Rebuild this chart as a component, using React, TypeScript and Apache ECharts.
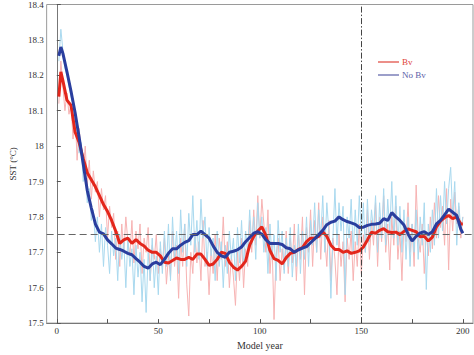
import React, { useEffect, useRef } from "react";
import * as echarts from "echarts";

const thickYears = [1, 2, 3, 5, 7, 9, 11, 13, 15, 17, 19, 21, 23, 25, 27, 29, 31, 33, 35, 37, 39, 41, 43, 45, 47, 49, 51, 53, 55, 57, 59, 61, 63, 65, 67, 69, 71, 73, 75, 77, 79, 81, 83, 85, 87, 89, 91, 93, 95, 97, 99, 101, 103, 105, 107, 109, 111, 113, 115, 117, 119, 121, 123, 125, 127, 129, 131, 133, 135, 137, 139, 141, 143, 145, 147, 149, 151, 153, 155, 157, 159, 161, 163, 165, 167, 169, 171, 173, 175, 177, 179, 181, 183, 185, 187, 189, 191, 193, 195, 197, 199, 200];

const bvSmooth = [18.14, 18.21, 18.185, 18.13, 18.115, 18.04, 18.01, 17.965, 17.925, 17.905, 17.885, 17.86, 17.835, 17.815, 17.79, 17.76, 17.725, 17.735, 17.74, 17.725, 17.736, 17.725, 17.718, 17.706, 17.7, 17.7, 17.69, 17.672, 17.67, 17.677, 17.684, 17.68, 17.68, 17.686, 17.68, 17.695, 17.695, 17.68, 17.663, 17.667, 17.68, 17.7, 17.697, 17.672, 17.658, 17.65, 17.66, 17.675, 17.72, 17.745, 17.76, 17.772, 17.748, 17.705, 17.682, 17.677, 17.667, 17.685, 17.697, 17.7, 17.708, 17.713, 17.73, 17.74, 17.74, 17.745, 17.758, 17.745, 17.72, 17.708, 17.708, 17.7, 17.704, 17.697, 17.7, 17.704, 17.715, 17.735, 17.757, 17.754, 17.762, 17.767, 17.758, 17.756, 17.757, 17.75, 17.759, 17.766, 17.762, 17.758, 17.744, 17.745, 17.732, 17.743, 17.772, 17.788, 17.798, 17.804, 17.795, 17.8, 17.78, 17.78];

const noBvSmooth = [18.255, 18.28, 18.262, 18.21, 18.155, 18.095, 18.025, 17.95, 17.875, 17.825, 17.78, 17.757, 17.752, 17.735, 17.724, 17.712, 17.708, 17.703, 17.697, 17.693, 17.682, 17.672, 17.66, 17.655, 17.667, 17.672, 17.665, 17.68, 17.697, 17.71, 17.71, 17.72, 17.728, 17.733, 17.75, 17.75, 17.76, 17.75, 17.74, 17.718, 17.7, 17.69, 17.686, 17.7, 17.703, 17.707, 17.715, 17.73, 17.742, 17.754, 17.758, 17.751, 17.735, 17.725, 17.725, 17.725, 17.722, 17.713, 17.71, 17.7, 17.707, 17.712, 17.716, 17.727, 17.738, 17.75, 17.762, 17.778, 17.785, 17.788, 17.8, 17.792, 17.787, 17.783, 17.779, 17.77, 17.771, 17.776, 17.779, 17.78, 17.782, 17.795, 17.79, 17.812, 17.8, 17.79, 17.777, 17.752, 17.732, 17.745, 17.755, 17.758, 17.75, 17.758, 17.78, 17.79, 17.806, 17.822, 17.813, 17.804, 17.765, 17.754];

const bvAnnual = [
  18.12, 18.24, 18.17, 18.1, 18.15, 18.09, 18.12, 18.02, 18.1, 17.96,
  18.05, 17.99, 17.93, 18.0, 17.89, 17.96, 17.85, 17.93, 17.87, 17.9,
  17.8, 17.88, 17.82, 17.86, 17.74, 17.83, 17.77, 17.81, 17.68, 17.76,
  17.66, 17.78, 17.7, 17.8, 17.73, 17.69, 17.79, 17.67, 17.76, 17.71,
  17.78, 17.64, 17.74, 17.7, 17.77, 17.62, 17.72, 17.68, 17.75, 17.64,
  17.71, 17.66, 17.74, 17.61, 17.69, 17.63, 17.76, 17.66, 17.72, 17.57,
  17.74, 17.66, 17.78, 17.61, 17.52, 17.7, 17.64, 17.76, 17.67, 17.73,
  17.62, 17.79, 17.66, 17.7, 17.58, 17.71, 17.64, 17.75, 17.62, 17.74,
  17.68, 17.8, 17.66, 17.73, 17.6, 17.69, 17.63, 17.55, 17.7, 17.62,
  17.74, 17.6, 17.71, 17.66, 17.79, 17.7, 17.82, 17.72, 17.86, 17.74,
  17.85, 17.78, 17.7, 17.82, 17.64, 17.73, 17.51, 17.69, 17.74, 17.62,
  17.71, 17.65, 17.76, 17.64, 17.74, 17.67, 17.78, 17.62, 17.75, 17.68,
  17.8, 17.58, 17.77, 17.7, 17.82, 17.66, 17.79, 17.7, 17.84, 17.68,
  17.8, 17.74, 17.66, 17.79, 17.62, 17.74, 17.68, 17.58, 17.75, 17.66,
  17.73, 17.56, 17.74, 17.68, 17.76, 17.62, 17.73, 17.66, 17.78, 17.64,
  17.75, 17.7, 17.82, 17.68, 17.79, 17.72, 17.84, 17.66, 17.8, 17.73,
  17.86, 17.7, 17.78, 17.65, 17.8, 17.72, 17.83, 17.68, 17.76, 17.62,
  17.79, 17.73, 17.84, 17.7, 17.78, 17.66, 17.89, 17.74, 17.7, 17.78,
  17.64, 17.76, 17.69, 17.8, 17.71, 17.84, 17.74, 17.86, 17.77, 17.83,
  17.72, 17.88, 17.65, 17.85, 17.76, 17.87, 17.78, 17.83, 17.74, 17.8,
];

const noBvAnnual = [
  18.24, 18.33, 18.27, 18.22, 18.2, 18.17, 18.14, 18.12, 18.08, 18.04,
  17.98, 18.01, 17.9, 17.93, 17.84, 17.88, 17.79, 17.82, 17.73, 17.8,
  17.7, 17.78, 17.66, 17.77, 17.72, 17.64, 17.76, 17.69, 17.74, 17.62,
  17.75, 17.68, 17.73, 17.6, 17.74, 17.66, 17.71, 17.58, 17.72, 17.63,
  17.7, 17.56, 17.68, 17.53, 17.7, 17.62, 17.74, 17.6, 17.69, 17.58,
  17.73, 17.64, 17.76, 17.66, 17.78, 17.62, 17.8, 17.68, 17.76, 17.64,
  17.82, 17.7, 17.78, 17.66, 17.81, 17.72, 17.86, 17.7, 17.79, 17.68,
  17.85, 17.74, 17.8, 17.66, 17.77, 17.69, 17.74, 17.62, 17.76, 17.66,
  17.73, 17.6, 17.72, 17.64, 17.76, 17.68, 17.74, 17.62, 17.77, 17.67,
  17.79, 17.66, 17.76, 17.7, 17.82, 17.72, 17.8, 17.68, 17.84, 17.74,
  17.8, 17.7, 17.77, 17.64, 17.78, 17.68, 17.75, 17.62, 17.79, 17.7,
  17.76, 17.64, 17.74, 17.66, 17.77, 17.63, 17.72, 17.66, 17.78, 17.64,
  17.76, 17.68, 17.8, 17.66, 17.79, 17.72, 17.84, 17.7, 17.82, 17.74,
  17.86, 17.7, 17.84, 17.76, 17.57, 17.74, 17.88, 17.72, 17.84, 17.76,
  17.83, 17.58, 17.8, 17.74, 17.85, 17.7, 17.82, 17.72, 17.86, 17.74,
  17.84, 17.7, 17.85, 17.73, 17.82, 17.76, 17.86, 17.7, 17.84, 17.74,
  17.88, 17.72, 17.85, 17.76, 17.9, 17.74, 17.86, 17.72, 17.83, 17.7,
  17.82, 17.68, 17.8, 17.66, 17.78, 17.7, 17.82, 17.68, 17.8, 17.72,
  17.84, 17.595, 17.78, 17.7, 17.82, 17.72, 17.88, 17.74, 17.86, 17.76,
  17.9, 17.78, 17.88, 17.94, 17.8, 17.9, 17.72, 17.84, 17.76, 17.8,
];

const xTickValues = [0, 25, 50, 75, 100, 125, 150, 175, 200];
const xLabelValues = [0, 50, 100, 150, 200];
const referenceSST = 17.75;
const referenceYear = 150;

const FONT = "Liberation Serif";

function pairs(xs: number[], ys: number[]) {
  return ys.map((v, i) => [xs[i], v]);
}

export default function App() {
  const ref = useRef<HTMLDivElement>(null);
  useEffect(() => {
    document.body.style.margin = "0";
    const chart = echarts.init(ref.current!, null, { renderer: "svg" });
    const annualYears = bvAnnual.map((_, i) => i + 1);
    chart.setOption({
      animation: false,
      grid: { left: 27, right: 1, top: 4, bottom: 22, show: true, borderColor: "#9a9a9a", borderWidth: 1 },
      xAxis: {
        type: "value",
        min: -5,
        max: 205,
        name: "Model year",
        nameLocation: "middle",
        nameGap: 13,
        nameTextStyle: { fontFamily: FONT, fontSize: 10, color: "#333" },
        axisLine: { show: true, lineStyle: { color: "#777" } },
        axisTick: { show: true, inside: true, length: 4, customValues: xTickValues, lineStyle: { color: "#555" } },
        axisLabel: { customValues: xLabelValues, fontFamily: FONT, fontSize: 9, color: "#333", margin: 3 },
        splitLine: { show: false },
      },
      yAxis: {
        type: "value",
        min: 17.5,
        max: 18.4,
        interval: 0.1,
        name: "SST (°C)",
        nameLocation: "middle",
        nameGap: 24,
        nameRotate: 90,
        nameTextStyle: { fontFamily: FONT, fontSize: 9, color: "#333" },
        axisLine: { show: true, lineStyle: { color: "#777" } },
        axisTick: { show: true, inside: true, length: 4, lineStyle: { color: "#555" } },
        axisLabel: {
          fontFamily: FONT,
          fontSize: 9,
          color: "#333",
          margin: 3,
          formatter: (v: number) => String(parseFloat(v.toFixed(1))),
        },
        splitLine: { show: false },
      },
      graphic: [
        { type: "line", shape: { x1: 378, y1: 62, x2: 399, y2: 62 }, style: { stroke: "#e0443a", lineWidth: 1.2 } },
        { type: "text", x: 402, y: 62, style: { text: "Bv", fill: "#e0443a", font: `9px ${FONT}`, verticalAlign: "middle" } },
        { type: "line", shape: { x1: 378, y1: 75, x2: 399, y2: 75 }, style: { stroke: "#5a5ea6", lineWidth: 1.2 } },
        { type: "text", x: 402, y: 75, style: { text: "No Bv", fill: "#5a5ea6", font: `9px ${FONT}`, verticalAlign: "middle" } },
      ],
      series: [
        {
          type: "line",
          data: pairs(annualYears, bvAnnual),
          showSymbol: false,
          silent: true,
          lineStyle: { color: "#f7b3b3", width: 1 },
          markLine: {
            silent: true,
            symbol: ["none", "none"],
            label: { show: false },
            data: [
              { yAxis: referenceSST, lineStyle: { type: [7, 4], color: "#666", width: 1 } },
              { xAxis: referenceYear, lineStyle: { type: [6, 2, 1.5, 2], color: "#444", width: 1 } },
            ],
          },
        },
        {
          type: "line",
          data: pairs(annualYears, noBvAnnual),
          showSymbol: false,
          silent: true,
          lineStyle: { color: "#a9d9ef", width: 1 },
        },
        {
          type: "line",
          name: "Bv",
          data: pairs(thickYears, bvSmooth),
          showSymbol: false,
          silent: true,
          lineStyle: { color: "#e3261b", width: 3 },
        },
        {
          type: "line",
          name: "No Bv",
          data: pairs(thickYears, noBvSmooth),
          showSymbol: false,
          silent: true,
          lineStyle: { color: "#2a3e9e", width: 3 },
        },
      ],
    });
    return () => chart.dispose();
  }, []);
  return <div ref={ref} style={{ width: 474, height: 355 }} />;
}
